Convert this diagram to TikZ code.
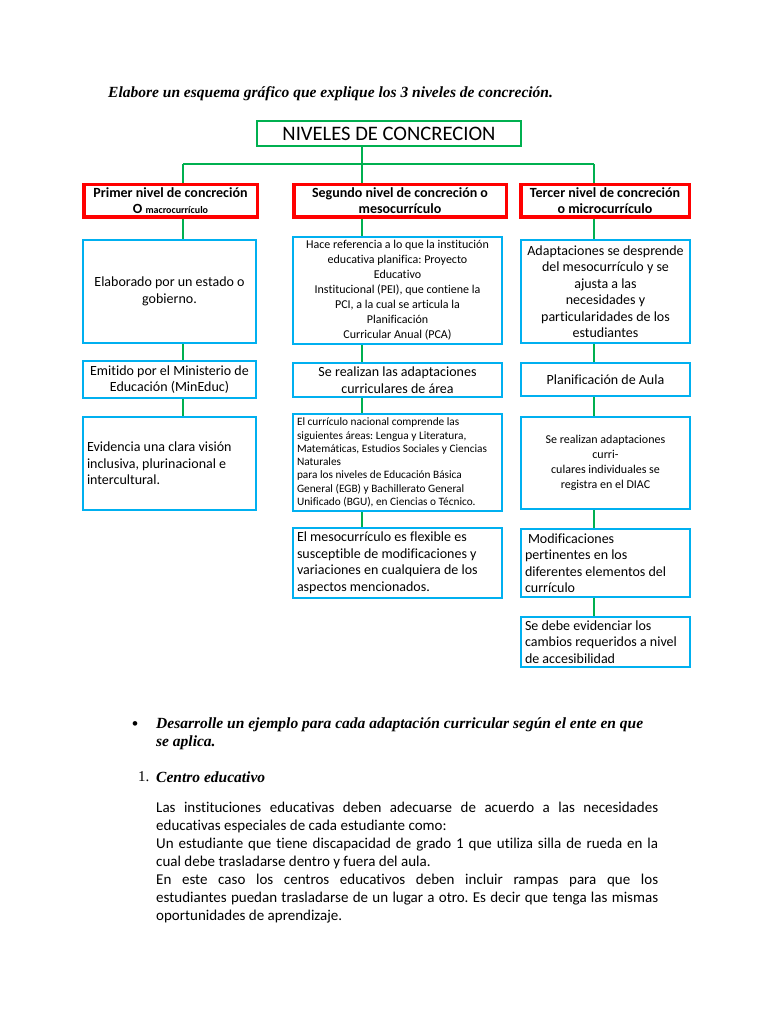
\documentclass[tikz,border=0pt]{standalone}
\usepackage{fontspec}
\setmainfont{Carlito}[Ligatures=NoCommon]
\newfontfamily\timesfont{Liberation Serif}
\frenchspacing

\definecolor{linkgreen}{RGB}{0,176,80}
\definecolor{boxblue}{RGB}{0,176,240}

\tikzset{
	titlebox/.style={draw=linkgreen, line width=1.6pt, font=\fontsize{20.6}{24}\selectfont},
	levelbox/.style={draw=red, line width=3.5pt, align=center, inner sep=2pt, font=\bfseries\fontsize{14}{16}\selectfont},
	infobox/.style={draw=boxblue, line width=2pt, inner sep=4pt, font=\fontsize{14}{16.5}\selectfont},
	link/.style={draw=linkgreen, line width=1.6pt},
	task/.style={inner sep=0pt, font=\timesfont\bfseries\itshape\fontsize{15.5}{18}\selectfont},
}

\begin{document}
\begin{tikzpicture}[x=1pt, y=-1pt]
	\useasboundingbox (0,0) rectangle (768,1024);
	
	\node[task, anchor=west] (task1) at (108,94) {Elabore un esquema gráfico que explique los 3 niveles de concreción.};
	
	\node[titlebox, minimum width=264pt, minimum height=25pt] (top) at (389,133.5) {NIVELES DE CONCRECION};
	
	% levels
	\node[levelbox, minimum width=173.5pt, minimum height=32.5pt] (lvA) at (170.5,201) {Primer nivel de concreción\\ O {\fontsize{10}{12}\selectfont macrocurrículo}};
	\node[levelbox, minimum width=212.5pt, minimum height=32.5pt] (lvB) at (400,201) {Segundo nivel de concreción o\\ mesocurrículo};
	\node[levelbox, minimum width=168.5pt, minimum height=32.5pt] (lvC) at (605,201) {Tercer nivel de concreción\\ o microcurrículo};
	
	% first column
	\node[infobox, align=center, minimum width=173pt, minimum height=103pt] (a1) at (169.5,291.5) {Elaborado por un estado o\\ gobierno.};
	\node[infobox, align=center, minimum width=173pt, minimum height=33pt] (a2) at (169.5,379.5) {Emitido por el Ministerio de\\ Educación (MinEduc)};
	\node[infobox, align=flush left, text width=165pt, minimum height=93pt] (a3) at (169.5,463.5) {Evidencia una clara visión\\ inclusiva, plurinacional e\\ intercultural.};
	
	% second column
	\node[infobox, align=center, minimum width=209pt, minimum height=105pt, font=\fontsize{12}{15}\selectfont] (b1) at (397.5,290.5) {Hace referencia a lo que la institución\\ educativa planifica: Proyecto\\ Educativo\\ Institucional (PEI), que contiene la\\ PCI, a la cual se articula la\\ Planificación\\ Curricular Anual (PCA)};
	\node[infobox, align=center, minimum width=209pt, minimum height=32pt] (b2) at (397.5,380) {Se realizan las adaptaciones\\ curriculares de área};
	\node[infobox, align=flush left, text width=201pt, minimum height=93pt, font=\fontsize{11.3}{13.3}\selectfont] (b3) at (397.5,462.5) {El currículo nacional comprende las\\ siguientes áreas: Lengua y Literatura,\\ Matemáticas, Estudios Sociales y Ciencias\\ Naturales\\ para los niveles de Educación Básica\\ General (EGB) y Bachillerato General\\ Unificado (BGU), en Ciencias o Técnico.};
	\node[infobox, align=flush left, text width=201pt, minimum height=66pt] (b4) at (397.5,563) {El mesocurrículo es flexible es\\ susceptible de modificaciones y\\ variaciones en cualquiera de los\\ aspectos mencionados.};
	
	% third column
	\node[infobox, align=center, minimum width=169pt, minimum height=103pt] (c1) at (605.5,291.5) {Adaptaciones se desprende\\ del mesocurrículo y se\\ ajusta a las\\ necesidades y\\ particularidades de los\\ estudiantes};
	\node[infobox, align=center, minimum width=169pt, minimum height=33pt] (c2) at (605.5,379.5) {Planificación de Aula};
	\node[infobox, align=center, minimum width=169pt, minimum height=92pt, font=\fontsize{12}{15}\selectfont] (c3) at (605.5,463) {Se realizan adaptaciones\\ curri-\\ culares individuales se\\ registra en el DIAC};
	\node[infobox, align=flush left, text width=161pt, minimum height=66pt] (c4) at (605.5,563) {\hspace{3pt}Modificaciones\\ pertinentes en los\\ diferentes elementos del\\ currículo};
	\node[infobox, align=flush left, text width=161pt, minimum height=46pt] (c5) at (605.5,642) {Se debe evidenciar los\\ cambios requeridos a nivel\\ de accesibilidad};
	
	% green lines
	\coordinate (colA) at (183,0);
	\coordinate (colB) at (362,0);
	\coordinate (colC) at (594,0);
	\coordinate (bar) at (0,164);
	\draw[link] (top.south -| colB) -- (colB |- bar);
	\draw[link] (colA |- bar) -- (colC |- bar);
	\draw[link] (colA |- bar) -- (lvA.north -| colA);
	\draw[link] (colB |- bar) -- (lvB.north -| colB);
	\draw[link] (colC |- bar) -- (lvC.north -| colC);
	
	\draw[link] (lvA.south -| colA) -- (a1.north -| colA);
	\draw[link] (a1.south -| colA) -- (a2.north -| colA);
	\draw[link] (a2.south -| colA) -- (a3.north -| colA);
	
	\draw[link] (lvB.south -| colB) -- (b1.north -| colB);
	\draw[link] (b1.south -| colB) -- (b2.north -| colB);
	\draw[link] (b2.south -| colB) -- (b3.north -| colB);
	\draw[link] (b3.south -| colB) -- (b4.north -| colB);
	
	\draw[link] (lvC.south -| colC) -- (c1.north -| colC);
	\draw[link] (c1.south -| colC) -- (c2.north -| colC);
	\draw[link] (c2.south -| colC) -- (c3.north -| colC);
	\draw[link] (c3.south -| colC) -- (c4.north -| colC);
	\draw[link] (c4.south -| colC) -- (c5.north -| colC);
	
	% text below
	\node[font=\fontsize{13}{16}\selectfont] (bullet) at (135,725) {\textbullet};
	\node[task, anchor=west, align=left] (task2) at (156,734) {Desarrolle un ejemplo para cada adaptación curricular según el ente en que\\ se aplica.};
	\node[anchor=west, inner sep=0pt, font=\timesfont\fontsize{15}{18}\selectfont] (num) at (138,777) {1.};
	\node[task, anchor=west] (centro) at (156,777) {Centro educativo};
	
	\node[anchor=west, inner sep=0pt, text width=502pt, align=justify, font=\fontsize{15}{18}\selectfont] (texto) at (156,863) {Las instituciones educativas deben adecuarse de acuerdo a las necesidades\linebreak educativas especiales de cada estudiante como:\newline Un estudiante que tiene discapacidad de grado 1 que utiliza silla de rueda en la\linebreak cual debe trasladarse dentro y fuera del aula.\newline En este caso los centros educativos deben incluir rampas para que los\linebreak estudiantes puedan trasladarse de un lugar a otro. Es decir que tenga las mismas\linebreak oportunidades de aprendizaje.};
	
\end{tikzpicture}
\end{document}
